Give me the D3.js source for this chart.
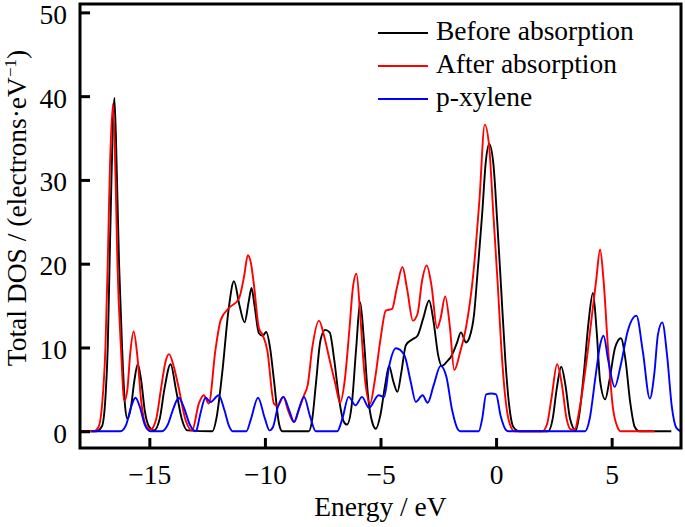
<!DOCTYPE html>
<html>
<head>
<meta charset="utf-8">
<script src="https://cdn.jsdelivr.net/npm/d3@7"></script>
<style>
  body { margin: 0; background: #fff; }
  text { font-family: "Liberation Serif", "Times New Roman", serif; }
</style>
</head>
<body>
<div id="chart"></div>
<script>
// DOS curves: [energy (eV), DOS]
var before = [
  [-18, 0], [-17.3, 0], [-17.05, 0.6], [-16.9, 4], [-16.8, 10], [-16.72, 20], [-16.64, 30],
  [-16.51, 39.8], [-16.4, 30], [-16.31, 20], [-16.18, 10], [-16.05, 3], [-15.95, 1.5],
  [-15.8, 2.8], [-15.65, 6], [-15.5, 8.0], [-15.35, 6], [-15.2, 2.5], [-15.0, 0.5], [-14.8, 0.1],
  [-14.55, 1.5], [-14.35, 5], [-14.08, 8.0], [-13.85, 5], [-13.6, 1.5], [-13.35, 0.1], [-12.27, 0],
  [-12.1, 1.5], [-11.85, 6.9], [-11.56, 14.8], [-11.34, 17.9], [-11.1, 15], [-10.88, 13.0],
  [-10.7, 15.5], [-10.58, 17.1], [-10.45, 15], [-10.26, 11.7], [-10.1, 11.4], [-9.94, 11.85],
  [-9.78, 10], [-9.61, 6.1], [-9.39, 0.9], [-9.25, 0], [-8.1, 0], [-7.95, 1.5], [-7.8, 5.5],
  [-7.6, 10.8], [-7.4, 12.1], [-7.2, 11.8], [-7.0, 8.5], [-6.8, 4], [-6.6, 1.2], [-6.45, 0.8],
  [-6.25, 3], [-6.05, 10], [-5.88, 15.4], [-5.72, 11], [-5.55, 4.5], [-5.35, 1], [-5.2, 0.3],
  [-5.0, 2], [-4.8, 5.5], [-4.63, 7.8], [-4.45, 6], [-4.27, 4.7], [-4.1, 7], [-3.9, 10.3],
  [-3.6, 11], [-3.4, 11.4], [-3.15, 13.5], [-2.9, 15.6], [-2.7, 13], [-2.5, 9], [-2.35, 7.8],
  [-2.1, 8.4], [-1.95, 8.9], [-1.7, 10.5], [-1.52, 11.8], [-1.3, 10.6], [-1.15, 11.2],
  [-0.95, 14], [-0.8, 19], [-0.6, 26], [-0.45, 32], [-0.3, 34.3], [-0.12, 32], [0.05, 25],
  [0.22, 17], [0.4, 8.5], [0.55, 3.5], [0.75, 0.5], [1.0, 0], [2.25, 0], [2.45, 1.5], [2.62, 5],
  [2.82, 7.7], [3.0, 5.5], [3.2, 1.5], [3.45, 0.1], [3.6, 2], [3.8, 7], [4.0, 13], [4.19, 16.5],
  [4.35, 12], [4.5, 6], [4.72, 3.8], [4.9, 6], [5.15, 10], [5.4, 11.1], [5.6, 8.5], [5.8, 3.5],
  [6.0, 0.5], [6.2, 0], [7.58, 0]
];

var after = [
  [-18, 0], [-17.4, 0], [-17.2, 0.5], [-17.05, 3], [-16.9, 10], [-16.8, 20], [-16.72, 30],
  [-16.57, 39.1], [-16.46, 30], [-16.38, 20], [-16.23, 10], [-16.08, 3.6], [-15.95, 5],
  [-15.82, 9.5], [-15.68, 11.9], [-15.52, 9], [-15.35, 3.5], [-15.15, 0.7], [-14.95, 0.2],
  [-14.7, 1.5], [-14.5, 5], [-14.3, 8.3], [-14.15, 9.2], [-13.95, 7.8], [-13.73, 5.2],
  [-13.45, 1.5], [-13.15, 0.1], [-12.86, 3.3], [-12.64, 4.3], [-12.43, 3.3], [-12.14, 9.7],
  [-11.92, 13.2], [-11.56, 14.7], [-11.13, 15.8], [-10.9, 18.5], [-10.74, 21.0], [-10.6, 20],
  [-10.48, 17.6], [-10.26, 12.3], [-10.1, 11.5], [-9.9, 9.7], [-9.61, 3.3], [-9.45, 3.0],
  [-9.2, 4.1], [-9.0, 2.5], [-8.74, 1.1], [-8.5, 2.8], [-8.31, 4.3], [-8.15, 5.5], [-7.95, 10],
  [-7.66, 13.2], [-7.45, 11.5], [-7.2, 8.5], [-6.94, 5.5], [-6.75, 3.4], [-6.55, 6], [-6.35, 12],
  [-6.2, 17], [-6.04, 18.8], [-5.88, 14], [-5.7, 7], [-5.45, 3.3], [-5.25, 6], [-5.0, 11],
  [-4.77, 14.4], [-4.5, 14.6], [-4.3, 17], [-4.05, 19.6], [-3.85, 17], [-3.6, 13.2], [-3.4, 14],
  [-3.2, 18], [-3.0, 19.8], [-2.8, 17.5], [-2.55, 12.3], [-2.4, 13.5], [-2.2, 16.1], [-2.0, 12.5],
  [-1.81, 7.3], [-1.55, 9.5], [-1.3, 12.4], [-1.0, 18.4], [-0.72, 27.6], [-0.49, 36.6],
  [-0.3, 34], [-0.12, 26], [0.07, 17.6], [0.25, 9], [0.4, 4], [0.6, 0.8], [0.8, 0], [2.0, 0],
  [2.2, 0.8], [2.4, 4], [2.64, 8.0], [2.85, 5.5], [3.05, 1.5], [3.25, 0.2], [3.4, 0.2],
  [3.6, 2.5], [3.9, 8.1], [4.12, 13.2], [4.33, 18], [4.5, 21.7], [4.65, 18], [4.84, 10],
  [5.05, 2.9], [5.25, 0.5], [5.4, 0], [6.86, 0]
];

var xylene = [
  [-17.5, 0], [-16.25, 0], [-16.0, 0.8], [-15.8, 2.8], [-15.6, 4.0], [-15.4, 2.8], [-15.2, 0.8],
  [-14.95, 0], [-14.45, 0], [-14.2, 0.8], [-13.95, 2.8], [-13.73, 4.0], [-13.5, 2.8], [-13.25, 0.8],
  [-13.0, 0], [-12.95, 0.2], [-12.8, 2], [-12.57, 4.0], [-12.35, 3.5], [-12.0, 4.3], [-11.75, 2.5],
  [-11.55, 0.6], [-11.4, 0], [-10.8, 0], [-10.6, 1.5], [-10.3, 4.0], [-10.0, 1.5], [-9.8, 0.1],
  [-9.65, 0.5], [-9.45, 2.8], [-9.2, 4.1], [-8.95, 2.5], [-8.74, 1.1], [-8.55, 2.5], [-8.31, 4.1],
  [-8.05, 1.8], [-7.8, 0], [-6.87, 0], [-6.65, 1.5], [-6.38, 4.1], [-6.08, 3.1], [-5.8, 4.1],
  [-5.5, 2.8], [-5.08, 4.3], [-4.84, 4.1], [-4.63, 7.7], [-4.33, 9.9], [-3.97, 9.1], [-3.7, 6],
  [-3.47, 3.5], [-3.18, 4.3], [-2.96, 3.4], [-2.7, 5.5], [-2.4, 7.8], [-2.15, 6.5], [-1.9, 2.5],
  [-1.65, 0.2], [-1.55, 0], [-0.75, 0], [-0.6, 1.5], [-0.43, 4.4], [-0.2, 4.5], [0.0, 4.4],
  [0.2, 1.8], [0.45, 0.1], [0.55, 0], [3.85, 0], [4.05, 1.5], [4.3, 6.5], [4.5, 10.3],
  [4.65, 11.4], [4.85, 8.5], [5.13, 5.3], [5.4, 8], [5.7, 12], [6.07, 13.8], [6.35, 9.5],
  [6.65, 3.9], [6.85, 7], [7.0, 11.5], [7.19, 13.0], [7.4, 9], [7.6, 3], [7.8, 0.4], [8.0, 0]
];

var seriesNames = ['Before absorption', 'After absorption', 'p-xylene'];
var seriesColors = ['#000000', '#ff0000', '#0000ff'];
var xTicks = [-15, -10, -5, 0, 5];
var yTicks = [0, 10, 20, 30, 40, 50];

// Setup
var width = 685, height = 527;
var margin = {left: 80, top: 4, right: 4, bottom: 79};
var plot_width = width - margin.left - margin.right;
var plot_height = height - margin.top - margin.bottom;
var font_size = 27.5;

var svg = d3.select('#chart')
  .append('svg')
  .attr('width', width)
  .attr('height', height);

var x = d3.scaleLinear().domain([-18, 8]).range([margin.left, margin.left + plot_width]);
var y = d3.scaleLinear().domain([-2, 51]).range([margin.top + plot_height, margin.top]);

svg.append('clipPath')
  .attr('id', 'plot-clip')
  .append('rect')
  .attr('x', margin.left)
  .attr('y', margin.top)
  .attr('width', plot_width)
  .attr('height', plot_height);

var line = d3.line()
  .x(function(d) { return x(d[0]); })
  .y(function(d) { return y(d[1]); })
  .curve(d3.curveMonotoneX);

// black under red under blue, like the original
var series = [before, after, xylene];
svg.append('g')
  .attr('clip-path', 'url(#plot-clip)')
  .selectAll('.dos')
  .data(series)
  .enter()
  .append('path')
  .attr('class', 'dos')
  .attr('d', line)
  .attr('fill', 'none')
  .attr('stroke', function(d, i) { return seriesColors[i]; })
  .attr('stroke-width', 1.9)
  .attr('stroke-linejoin', 'round');

// Axes, ticks pointing inward
var xAxis = d3.axisBottom(x)
  .tickValues(xTicks)
  .tickSizeInner(-10)
  .tickSizeOuter(0)
  .tickPadding(16)
  .tickFormat(function(d) { return d < 0 ? '\u2212' + Math.abs(d) : d; });

var yAxis = d3.axisLeft(y)
  .tickValues(yTicks)
  .tickSizeInner(-10)
  .tickSizeOuter(0)
  .tickPadding(13);

var gx = svg.append('g')
  .attr('transform', 'translate(0,' + (margin.top + plot_height) + ')')
  .call(xAxis);
var gy = svg.append('g')
  .attr('transform', 'translate(' + margin.left + ',0)')
  .call(yAxis);

[gx, gy].forEach(function(g) {
  g.select('.domain').remove();
  g.selectAll('.tick line').attr('stroke', '#000').attr('stroke-width', 3);
  g.selectAll('.tick text')
    .attr('fill', '#000')
    .style('font-family', '"Liberation Serif", "Times New Roman", serif')
    .style('font-size', font_size + 'px');
});
// sit the y labels a little lower on their ticks
gy.selectAll('.tick text').attr('dy', '0.4em');

// Frame
svg.append('rect')
  .attr('x', margin.left)
  .attr('y', margin.top)
  .attr('width', plot_width)
  .attr('height', plot_height)
  .attr('fill', 'none')
  .attr('stroke', '#000')
  .attr('stroke-width', 3);

// Axis titles
svg.append('text')
  .attr('x', margin.left + plot_width / 2)
  .attr('y', 516)
  .attr('text-anchor', 'middle')
  .style('font-size', font_size + 'px')
  .text('Energy / eV');

var ylab = svg.append('text')
  .attr('transform', 'translate(26,' + 208 + ') rotate(-90)')
  .attr('text-anchor', 'middle')
  .style('font-size', font_size + 'px');
ylab.append('tspan').text('Total DOS / (electrons\u00b7eV');
ylab.append('tspan').attr('dy', -10).style('font-size', '17px').text('\u22121');
ylab.append('tspan').attr('dy', 10).text(')');

// Legend
var legend = svg.append('g')
  .selectAll('.legend-item')
  .data(seriesNames)
  .enter()
  .append('g')
  .attr('class', 'legend-item')
  .attr('transform', function(d, i) { return 'translate(378,' + (33 + i * 33) + ')'; });

legend.append('line')
  .attr('x1', 0)
  .attr('x2', 50)
  .attr('stroke', function(d, i) { return seriesColors[i]; })
  .attr('stroke-width', 1.9);

legend.append('text')
  .attr('x', 58)
  .attr('y', 7)
  .style('font-size', font_size + 'px')
  .text(function(d) { return d; });
</script>
</body>
</html>
